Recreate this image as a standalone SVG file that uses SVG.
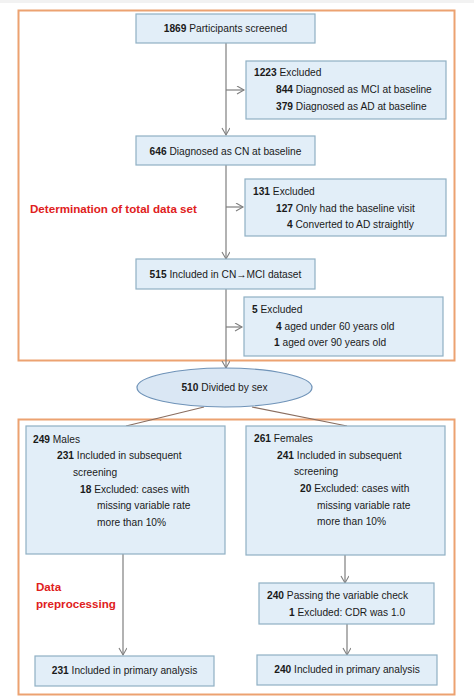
<svg xmlns="http://www.w3.org/2000/svg" width="474" height="697" viewBox="0 0 474 697">
<style>
text{font-family:"Liberation Sans",Arial,sans-serif;font-size:10.2px;fill:#1a1a1a}
.b{font-weight:bold}
.red{font-weight:bold;fill:#e02020;font-size:11.6px}
.box{fill:#e2eef8;stroke:#8fb0c4;stroke-width:1.2}
.sec{fill:none;stroke:#eca271;stroke-width:2}
.c{stroke:#7f7f7f;stroke-width:1.2;fill:none}
.s{stroke:#8a6e60;stroke-width:1.2;fill:none}
</style>
<defs>
<marker id="ah" markerWidth="10" markerHeight="10" refX="8" refY="4" orient="auto" markerUnits="userSpaceOnUse">
<polyline points="1,0 8,4 1,8" fill="none" stroke="#7f7f7f" stroke-width="1.1"/>
</marker>
</defs>
<rect x="0" y="0" width="474" height="697" fill="#ffffff"/>
<rect x="0" y="0" width="474" height="3" fill="#f2f2f2"/>
<g id="section1"><rect class="sec" x="18.5" y="10.5" width="436" height="350"/>
<text class="red" x="30" y="213">Determination of total data set</text></g>
<g id="section2"><rect class="sec" x="18.5" y="419.5" width="436" height="275"/>
<text class="red" x="36" y="591">Data</text><text class="red" x="36" y="608">preprocessing</text></g>
<g id="connectors">
<line class="c" x1="226" y1="43" x2="226" y2="135" marker-end="url(#ah)"/>
<line class="c" x1="226" y1="90" x2="244" y2="90" marker-end="url(#ah)"/>
<line class="c" x1="226" y1="165" x2="226" y2="259" marker-end="url(#ah)"/>
<line class="c" x1="226" y1="207" x2="243" y2="207" marker-end="url(#ah)"/>
<line class="c" x1="226" y1="289" x2="226" y2="368" marker-end="url(#ah)"/>
<line class="c" x1="226" y1="327" x2="242" y2="327" marker-end="url(#ah)"/>
<line class="s" x1="204" y1="407" x2="126" y2="426"/>
<line class="s" x1="252" y1="407" x2="347" y2="426"/>
<line class="c" x1="123" y1="554" x2="123" y2="655" marker-end="url(#ah)"/>
<line class="c" x1="345" y1="555" x2="345" y2="583" marker-end="url(#ah)"/>
<line class="c" x1="347" y1="624" x2="347" y2="655" marker-end="url(#ah)"/>
</g>
<g id="n1869"><rect class="box" x="136" y="14" width="179" height="29"/>
<text x="225.5" y="32" text-anchor="middle"><tspan class="b">1869</tspan> Participants screened</text></g>
<g id="n1223"><rect class="box" x="246" y="61" width="200" height="58"/>
<text x="254" y="76"><tspan class="b">1223</tspan> Excluded</text>
<text x="276" y="93"><tspan class="b">844</tspan> Diagnosed as MCI at baseline</text>
<text x="276" y="110"><tspan class="b">379</tspan> Diagnosed as AD at baseline</text></g>
<g id="n646"><rect class="box" x="136" y="136" width="179" height="29"/>
<text x="225.5" y="155" text-anchor="middle"><tspan class="b">646</tspan> Diagnosed as CN at baseline</text></g>
<g id="n131"><rect class="box" x="245" y="179" width="201" height="57"/>
<text x="253" y="195"><tspan class="b">131</tspan> Excluded</text>
<text x="276" y="212"><tspan class="b">127</tspan> Only had the baseline visit</text>
<text x="287" y="228"><tspan class="b">4</tspan> Converted to AD straightly</text></g>
<g id="n515"><rect class="box" x="136" y="259" width="179" height="30"/>
<text x="225.5" y="278" text-anchor="middle"><tspan class="b">515</tspan> Included in CN→MCI dataset</text></g>
<g id="n5"><rect class="box" x="244" y="297" width="199" height="59"/>
<text x="252" y="313"><tspan class="b">5</tspan> Excluded</text>
<text x="276" y="330"><tspan class="b">4</tspan> aged under 60 years old</text>
<text x="274" y="346"><tspan class="b">1</tspan> aged over 90 years old</text></g>
<g id="n510"><ellipse cx="224.5" cy="387.5" rx="87.5" ry="19.5" fill="#dae7f4" stroke="#6f93b8" stroke-width="1.2"/>
<text x="224.5" y="391" text-anchor="middle"><tspan class="b">510</tspan> Divided by sex</text></g>
<g id="males"><rect class="box" x="26" y="426" width="199" height="128"/>
<text x="33" y="443"><tspan class="b">249</tspan> Males</text>
<text x="57" y="459"><tspan class="b">231</tspan> Included in subsequent</text>
<text x="73" y="476">screening</text>
<text x="80" y="493"><tspan class="b">18</tspan> Excluded: cases with</text>
<text x="97" y="509">missing variable rate</text>
<text x="97" y="526">more than 10%</text></g>
<g id="females"><rect class="box" x="246" y="426" width="199" height="129"/>
<text x="254" y="442"><tspan class="b">261</tspan> Females</text>
<text x="277" y="459"><tspan class="b">241</tspan> Included in subsequent</text>
<text x="294" y="475">screening</text>
<text x="300" y="492"><tspan class="b">20</tspan> Excluded: cases with</text>
<text x="317" y="509">missing variable rate</text>
<text x="317" y="525">more than 10%</text></g>
<g id="n240pass"><rect class="box" x="259" y="583" width="175" height="41"/>
<text x="267" y="599"><tspan class="b">240</tspan> Passing the variable check</text>
<text x="289" y="616"><tspan class="b">1</tspan> Excluded: CDR was 1.0</text></g>
<g id="n231"><rect class="box" x="35" y="656" width="179" height="30"/>
<text x="124.5" y="674" text-anchor="middle"><tspan class="b">231</tspan> Included in primary analysis</text></g>
<g id="n240"><rect class="box" x="257" y="655" width="180" height="30"/>
<text x="347" y="673" text-anchor="middle"><tspan class="b">240</tspan> Included in primary analysis</text></g>
</svg>
